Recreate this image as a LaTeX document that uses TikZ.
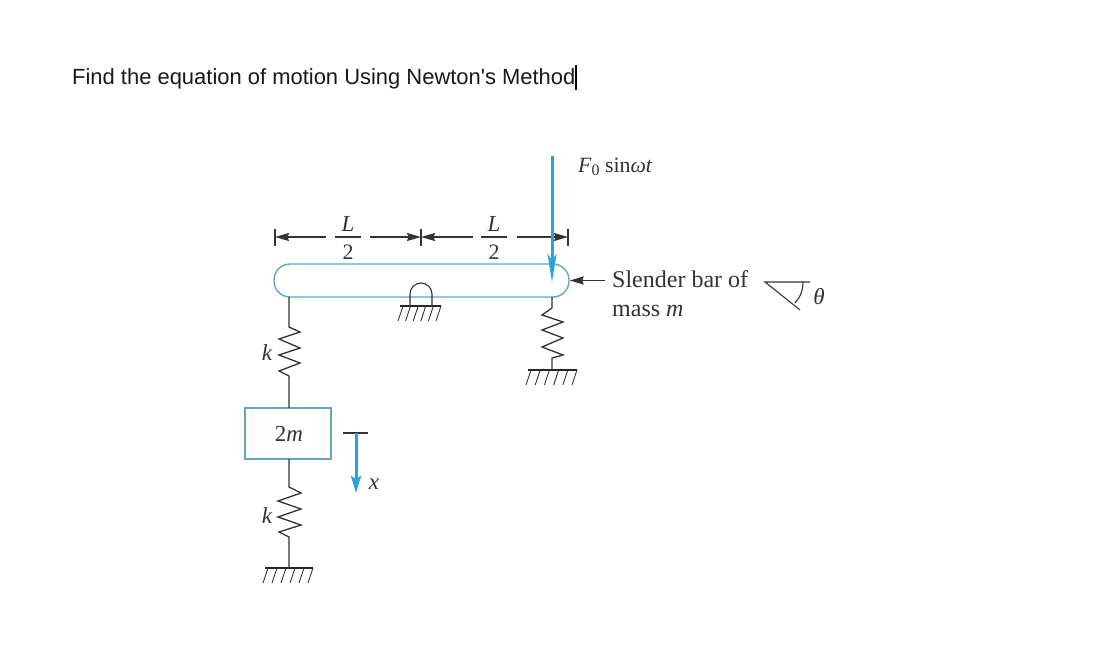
\documentclass[tikz,border=0pt]{standalone}
\usepackage{fontspec}
\setmainfont{Liberation Serif}
\newfontfamily\arialf{Liberation Sans}
\usetikzlibrary{arrows.meta}
\definecolor{ink}{HTML}{333333}
\definecolor{barblue}{HTML}{5FA9BE}
\definecolor{forceblue}{HTML}{29A3D8}
\newcommand{\gndhatch}[4]{%
  \draw[line width=2pt,black!85] (#1,#3) -- (#2,#3);
  \foreach \i in {0,...,#4}{
    \pgfmathsetmacro{\xx}{#1+3+(#2-#1-3)*\i/#4}
    \draw[line width=.9pt,ink] (\xx,#3) -- (\xx-5,#3+15);
  }}
\tikzset{
  x=1pt,y=-1pt,
  wire/.style={line width=1.3pt,ink,line join=miter},
  dim/.style={line width=1.2pt,ink,-{Stealth[length=14pt,width=8pt,inset=1.5pt]}},
  tick/.style={line width=1.2pt,ink},
  forcearrow/.style={line width=3pt,forceblue,-{Stealth[length=17pt,width=10pt,inset=3pt]}},
  longhead/.style={line width=3pt,forceblue,-{Stealth[length=28pt,width=9pt,inset=6pt]}},
  serif/.style={inner sep=0pt,text=ink,font=\fontsize{24}{24}\selectfont},
  math/.style={inner sep=0pt,text=ink,font=\fontsize{23}{23}\selectfont\itshape},
  barbox/.style={draw=barblue,line width=1.4pt,fill=white,rounded corners=16pt,minimum width=295pt,minimum height=33pt,inner sep=0pt},
  massbox/.style={draw=barblue,line width=1.4pt,fill=white,minimum width=86pt,minimum height=51pt,inner sep=0pt},
}
\begin{document}
\begin{tikzpicture}
\useasboundingbox[fill=white] (0,0) rectangle (1105,653);
% heading
\node[anchor=base west,inner sep=0pt,text=black!90,font=\arialf\fontsize{21.95}{22}\selectfont] (title) at (72,84) {Find the equation of motion Using Newton's Method};
\coordinate (curT) at (576,65); \coordinate (curB) at (576,90);
\draw[line width=1.2pt,black] (curT) -- (curB);

% bar and mass
\node[barbox] (bar) at (421.5,280.5) {};
\node[massbox] (mass) at (288,433.5) {};
\node[math] (mlabel) at (289,434) {\upshape 2\itshape m};

% named points
\coordinate (tickA) at (275,237); \coordinate (tickB) at (421,237); \coordinate (tickC) at (568,237);
\coordinate (gndL) at (289,568); \coordinate (gndR) at (552,370);
\coordinate (topL) at (289,297); \coordinate (topR) at (552,297);
\coordinate (mTop) at (289,408); \coordinate (mBot) at (289,459);

% left upper spring
\draw[wire] (topL) -- (289,327) -- (300,332) -- (279,339) -- (300,348) -- (279,355) -- (300,363) -- (279,371) -- (289,376) -- (mTop);
% left lower spring
\draw[wire] (mBot) -- (289,487) -- (301,493) -- (278,501) -- (301,509) -- (278,517) -- (301,525) -- (279,532) -- (289,537) -- (gndL);
% right spring
\draw[wire] (topR) -- (552,308) -- (542,315) -- (563,322) -- (542,330) -- (563,338) -- (542,347) -- (563,355) -- (552,358) -- (gndR);

% grounds
\gndhatch{265}{313}{568}{5}
\gndhatch{528}{577}{370}{5}
\gndhatch{400}{441}{306}{5}

% pivot
\coordinate (pivL) at (410,306); \coordinate (pivR) at (432,306);
\draw[line width=1.1pt,ink] (pivL) -- (410,294) arc[start angle=180,end angle=360,radius=11] -- (pivR);

% dimensions
\foreach \t in {tickA,tickB,tickC}{\draw[tick] ([yshift=-8.5pt]\t) -- ([yshift=8.5pt]\t);}
\draw[dim] (326,237) -- (tickA);
\draw[dim] (370,237) -- (tickB);
\draw[dim] (473,237) -- (tickB);
\draw[dim] (517,237) -- (tickC);
\node[math] (L1) at (348,224) {L};
\node[serif,font=\fontsize{22}{22}\selectfont] (two1) at (348,252) {2};
\draw[tick] (335,237) -- (361,237);
\node[math] (L2) at (494,224) {L};
\node[serif,font=\fontsize{22}{22}\selectfont] (two2) at (494,252) {2};
\draw[tick] (481,237) -- (507,237);

% force
\coordinate (fTop) at (552,156); \coordinate (fTip) at (552,282);
\draw[longhead] (fTop) -- (fTip);
\node[serif,anchor=base west,font=\fontsize{21.8}{22}\selectfont] (force) at (578,172) {\textit{F}\raisebox{-3pt}{\fontsize{16}{16}\selectfont 0} sin\textit{ωt}};

% slender bar label
\coordinate (lblStart) at (605,280.5);
\draw[dim] (lblStart) -- (bar.east);
\node[serif,anchor=base west] (slender) at (612,287) {Slender bar of};
\node[serif,anchor=base west] (massm) at (612,316) {mass \textit{m}};

% theta
\coordinate (thO) at (765,282); \coordinate (thH) at (810,282); \coordinate (thD) at (800,310);
\draw[line width=1.1pt,ink] (thH) -- (thO) -- (thD);
\draw[line width=1.1pt,ink] (803,282) .. controls (803,290) and (800,298) .. (795,303);
\node[math] (theta) at (819,297) {θ};

% x arrow
\coordinate (xL) at (343,433); \coordinate (xR) at (368,433); \coordinate (xTop) at (356,433); \coordinate (xTip) at (356,493);
\draw[line width=1.2pt,ink] (xL) -- (xR);
\draw[forcearrow] (xTop) -- (xTip);
\node[math] (xlabel) at (374,484) {x};

% k labels
\node[math] (k1) at (267,353) {k};
\node[math] (k2) at (267,516) {k};
\end{tikzpicture}
\end{document}
